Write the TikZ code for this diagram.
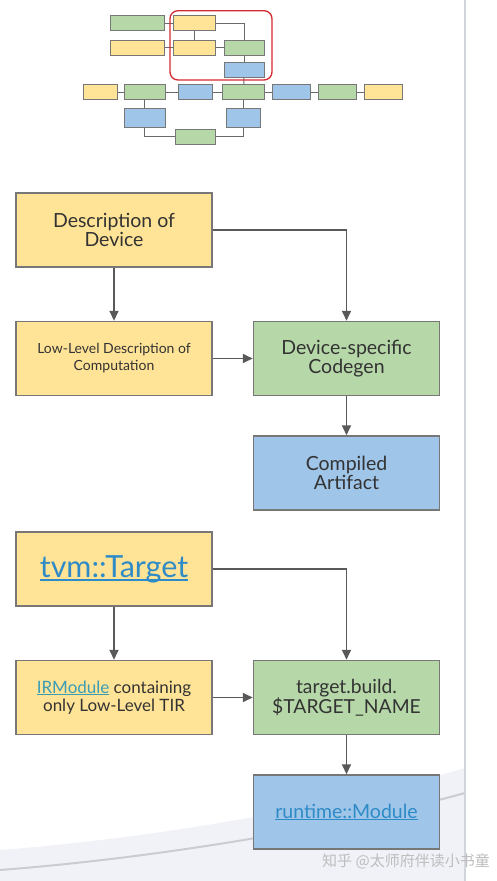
\documentclass[tikz,border=0pt]{standalone}
\usepackage{fontspec}
\setmainfont{Lato}
\newfontfamily\cjkfont{Noto Sans CJK SC}
\usepackage{tikz}
\usetikzlibrary{positioning,arrows.meta}

\definecolor{boxyellow}{HTML}{FFE396}
\definecolor{boxgreen}{HTML}{B6D7A8}
\definecolor{boxblue}{HTML}{9FC5E8}
\definecolor{boxline}{HTML}{777777}
\definecolor{arrowgray}{HTML}{595959}
\definecolor{textgray}{HTML}{333333}
\definecolor{linkblue}{HTML}{2E8BC8}
\definecolor{linkteal}{HTML}{3A9DB5}
\definecolor{framered}{HTML}{D42A2F}
\definecolor{sepgray}{HTML}{D2D6DB}
\definecolor{bandfill}{HTML}{F0F2F8}
\definecolor{bandline}{HTML}{C9CDD3}

\newcommand{\lnk}[2]{\textcolor{#1}{\setbox0\hbox{#2}\rlap{\rule[-0.12em]{\wd0}{0.05em}}\box0}}

\begin{document}
\begin{tikzpicture}[x=1pt,y=-1pt,
  box/.style={draw=boxline,line width=1.5pt,minimum width=196pt,minimum height=74pt,
    inner sep=0pt,align=center,text=textgray},
  rbox/.style={box,minimum width=186pt},
  mini/.style={draw=boxline,line width=1pt,minimum height=15pt,inner sep=0pt},
  flow/.style={draw=arrowgray,line width=1.8pt,-{Triangle[length=10pt,width=9pt]}},
  link/.style={draw=arrowgray!90,line width=1pt}]
\useasboundingbox (0,0) rectangle (497,881);

% background
\fill[bandfill] (0,850) .. controls (180,836) and (360,800) .. (465,768) -- (465,881) -- (0,881) -- cycle;
\draw[bandline,line width=2pt] (0,870) .. controls (180,856) and (360,822) .. (465,793);
\draw[sepgray,line width=2pt] (465,0) -- (465,881);

% overview thumbnail
\node[mini,fill=boxgreen,minimum width=54pt] (ta) at (137.9,23.2) {};
\node[mini,fill=boxyellow,minimum width=42pt] (tb) at (194.3,23.2) {};
\node[mini,fill=boxyellow,minimum width=54pt] (tc) at (137.9,47.9) {};
\node[mini,fill=boxyellow,minimum width=42pt] (td) at (194.3,47.9) {};
\node[mini,fill=boxgreen,minimum width=40pt] (te) at (244,47.9) {};
\node[mini,fill=boxblue,minimum width=40pt] (tf) at (244,70) {};
\node[mini,fill=boxyellow,minimum width=34pt] (r1) at (100.5,92.4) {};
\node[mini,fill=boxgreen,minimum width=41pt] (r2) at (144.7,92.4) {};
\node[mini,fill=boxblue,minimum width=34pt] (r3) at (195.5,92.4) {};
\node[mini,fill=boxgreen,minimum width=42pt] (r4) at (243.9,92.4) {};
\node[mini,fill=boxblue,minimum width=38pt] (r5) at (291.9,92.4) {};
\node[mini,fill=boxgreen,minimum width=38pt] (r6) at (337.9,92.4) {};
\node[mini,fill=boxyellow,minimum width=38pt] (r7) at (383.7,92.4) {};
\node[mini,fill=boxblue,minimum width=41pt,minimum height=19pt] (s1) at (144.7,118) {};
\node[mini,fill=boxblue,minimum width=34pt,minimum height=19pt] (s2) at (243.9,118) {};
\node[mini,fill=boxgreen,minimum width=40pt] (u1) at (195.5,136.8) {};
\path[link] (ta) -- (tb);
\path[link] (tb) -- (td);
\path[link] (tb.east) -| (te.north);
\path[link] (tc) -- (td);
\path[link] (td) -- (te);
\path[link] (te) -- (tf);
\path[link] (tf) -- (r4);
\path[link] (r1) -- (r2);
\path[link] (r2) -- (r3);
\path[link] (r3) -- (r4);
\path[link] (r4) -- (r5);
\path[link] (r5) -- (r6);
\path[link] (r6) -- (r7);
\path[link] (r2) -- (s1);
\path[link] (r4) -- (s2);
\path[link] (s1.south) |- (u1.west);
\path[link] (u1.east) -| (s2.south);
\draw[framered,line width=1.3pt,rounded corners=8pt] (170,10.7) rectangle (272,80);

% generic flow
\node[box,fill=boxyellow,font=\fontsize{19.5}{18.5}\selectfont] (desc) at (114,230) {Description of\\Device};
\node[box,fill=boxyellow,below=53pt of desc,font=\fontsize{14}{17}\selectfont] (lowdesc) {Low-Level Description of\\Computation};
\node[rbox,fill=boxgreen,right=40pt of lowdesc,font=\fontsize{19.5}{18.5}\selectfont] (codegen) {Device-specific\\Codegen};
\node[rbox,fill=boxblue,below=39pt of codegen,font=\fontsize{19.5}{18.5}\selectfont] (artifact) {Compiled\\Artifact};
\path[flow] (desc) -- (lowdesc);
\path[flow] (desc.east) -| (codegen.north);
\path[flow] (lowdesc) -- (codegen);
\path[flow] (codegen) -- (artifact);

% tvm flow
\node[box,fill=boxyellow,font=\fontsize{30.5}{30}\selectfont] (target) at (114,569) {\lnk{linkblue}{tvm::Target}};
\node[box,fill=boxyellow,below=53pt of target,font=\fontsize{17}{18.5}\selectfont] (irmod) {\lnk{linkteal}{IRModule} containing\\only Low-Level TIR};
\node[rbox,fill=boxgreen,right=40pt of irmod,font=\fontsize{19.3}{18.5}\selectfont] (build) {target.build.\\\$TARGET\_NAME};
\node[rbox,fill=boxblue,below=39pt of build,font=\fontsize{19.5}{18.5}\selectfont] (rtmod) {\lnk{linkblue}{runtime::Module}};
\path[flow] (target) -- (irmod);
\path[flow] (target.east) -| (build.north);
\path[flow] (irmod) -- (build);
\path[flow] (build) -- (rtmod);

\node[anchor=west,inner sep=0pt,text=black!26,font=\cjkfont\fontsize{15}{15}\selectfont] (mark) at (322,861) {知乎 @太师府伴读小书童};
\end{tikzpicture}
\end{document}
